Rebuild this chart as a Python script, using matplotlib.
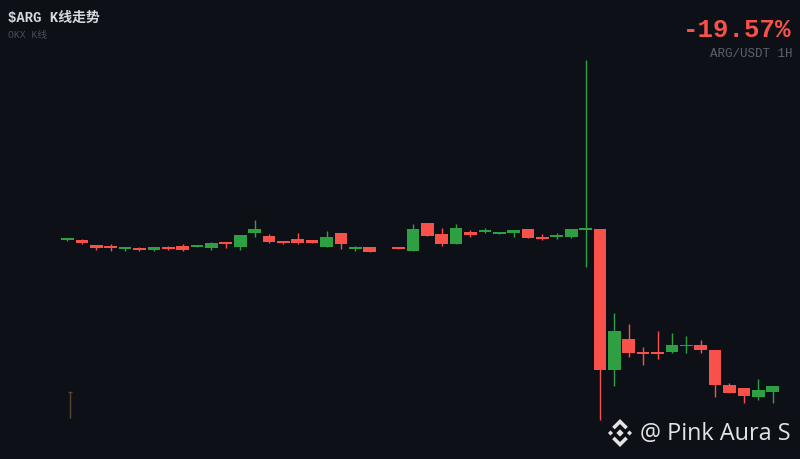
import matplotlib
matplotlib.use("Agg")
import matplotlib.pyplot as plt
import numpy as np
from matplotlib.patches import Polygon

# ARG/USDT 1H candles, prices in 1e-4 USDT (index 22 had no visible candle)
opens  = [766, 766.5, 761, 759, 757, 758, 755.7, 758.5, 760, 759.5, 758, 762.7,
          758.7, 772.7, 770, 765, 767, 766, 759.3, 773.3, 757.5, 759.3, np.nan, 757.7,
          754.7, 783.3, 772, 762, 774.3, 773.7, 772.5, 773.3, 776.7, 768.7, 769, 769.3,
          776.5, 777.5, 635.7, 667.3, 654, 653.7, 653.7, 659.7, 660.7, 656.3, 621, 617.7,
          609.3, 614]
highs  = [767, 767, 761.5, 762, 759, 759.5, 759, 760, 762, 761, 764, 764.5,
          771, 786, 772, 765, 773.3, 766, 775.3, 773.5, 760, 759.5, np.nan, 757.7,
          782, 783.3, 777.7, 782, 776, 777.7, 773, 776.5, 776.7, 772, 772.7, 776.7,
          946.5, 777.5, 692.7, 682, 659.3, 675.3, 672.7, 670, 666, 656.3, 622.7, 618,
          627, 620]
lows   = [765.5, 762, 756, 755, 755.5, 755, 755.5, 756, 755.5, 759, 756.5, 758.5,
          756, 769.3, 763.5, 762.5, 762.5, 763, 759, 756.7, 755.3, 754, np.nan, 757,
          754.7, 770, 760, 762, 769.3, 772.7, 772.5, 769.3, 767.7, 766.5, 766.7, 767.7,
          739, 586, 620, 648.7, 640.7, 646.7, 652.7, 652.7, 652.7, 609.3, 613.3, 603.3,
          606, 603.3]
closes = [766.5, 763.5, 758.5, 758.5, 757.5, 756.5, 758.7, 757, 756.5, 760.5, 763.5, 762.2,
          771, 777, 763.7, 762.7, 762.7, 763, 769.3, 762, 758.5, 754, np.nan, 757,
          777, 770, 762, 778.3, 771, 776, 772.8, 776, 767.7, 766.7, 770, 776.7,
          777, 635.7, 675, 652.7, 652, 651.7, 660.7, 661, 656.3, 621, 613.3, 610,
          615.7, 619.7]

# faint leftover stroke near the first candle
ghost_low, ghost_high = 588, 614

change_text = "-19.57%"
pair_text = "ARG/USDT 1H"

scale = 1e4
o = np.array(opens) / scale
h = np.array(highs) / scale
l = np.array(lows) / scale
c = np.array(closes) / scale
idx = np.arange(len(o))

bg = "#0d1117"
up_col = "#2ea043"
down_col = "#f85149"

fig = plt.figure(figsize=(8, 4.6), dpi=100, facecolor=bg)
ax = fig.add_axes([0, 0, 1, 1])
ax.set_facecolor(bg)
ax.axis("off")
ax.set_xlim(-4.69, 50.9)
ax.set_ylim(547 / scale, 1007 / scale)

ok = ~np.isnan(o)
cols = np.where(c >= o, up_col, down_col)
ax.vlines(idx[ok], l[ok], h[ok], colors=cols[ok], lw=1.0)
body_lo = np.minimum(o, c)
body_h = np.maximum(np.abs(c - o), 1.6 / scale)
ax.bar(idx[ok], body_h[ok], bottom=body_lo[ok], width=0.88, color=cols[ok], lw=0)

ax.vlines([0.17], [ghost_low / scale], [ghost_high / scale], colors="#6b5336", lw=1.0, alpha=0.8)
ax.hlines([ghost_high / scale], [0.05], [0.3], colors="#6b5336", lw=1.0, alpha=0.8)

W, H = 800, 460
def fx(px): return px / W
def fy(py): return 1 - py / H

mono_cjk = ["Liberation Mono", "Noto Sans CJK SC"]
fig.text(fx(8), fy(18), "$ARG K线走势", family=mono_cjk, fontsize=10, fontweight="bold",
         color="#d6dbe0", ha="left", va="center")
fig.text(fx(8), fy(35), "OKX K线", family=mono_cjk, fontsize=7, color="#484f58",
         ha="left", va="center")
fig.text(fx(791), fy(30), change_text, family="Liberation Mono", fontsize=18.5,
         fontweight="bold", color=down_col, ha="right", va="center")
fig.text(fx(792), fy(54), pair_text, family="Liberation Mono", fontsize=9,
         color="#5b626b", ha="right", va="center")

# watermark
fig.text(fx(640), fy(434), "@ Pink Aura S", family="Open Sans", fontsize=16.8,
         color="#e4e4e4", ha="left", va="center")
lax = fig.add_axes([fx(606), fy(448), 28 / W, 28 / H])
lax.set_xlim(-0.5, 0.5)
lax.set_ylim(-0.5, 0.5)
lax.axis("off")
lax.patch.set_alpha(0)
def diamond(cx, cy, r):
    return [(cx - r, cy), (cx, cy + r), (cx + r, cy), (cx, cy - r)]
for cx, r in [(0, 0.13), (-0.34, 0.09), (0.34, 0.09)]:
    lax.add_patch(Polygon(diamond(cx, 0, r), color="#e4e4e4", lw=0))
for s in (1, -1):
    pts = [(-0.28, 0.22 * s), (0, 0.5 * s), (0.28, 0.22 * s),
           (0.19, 0.13 * s), (0, 0.32 * s), (-0.19, 0.13 * s)]
    lax.add_patch(Polygon(pts, color="#e4e4e4", lw=0))

fig.savefig("out.png", dpi=100, facecolor=bg)
